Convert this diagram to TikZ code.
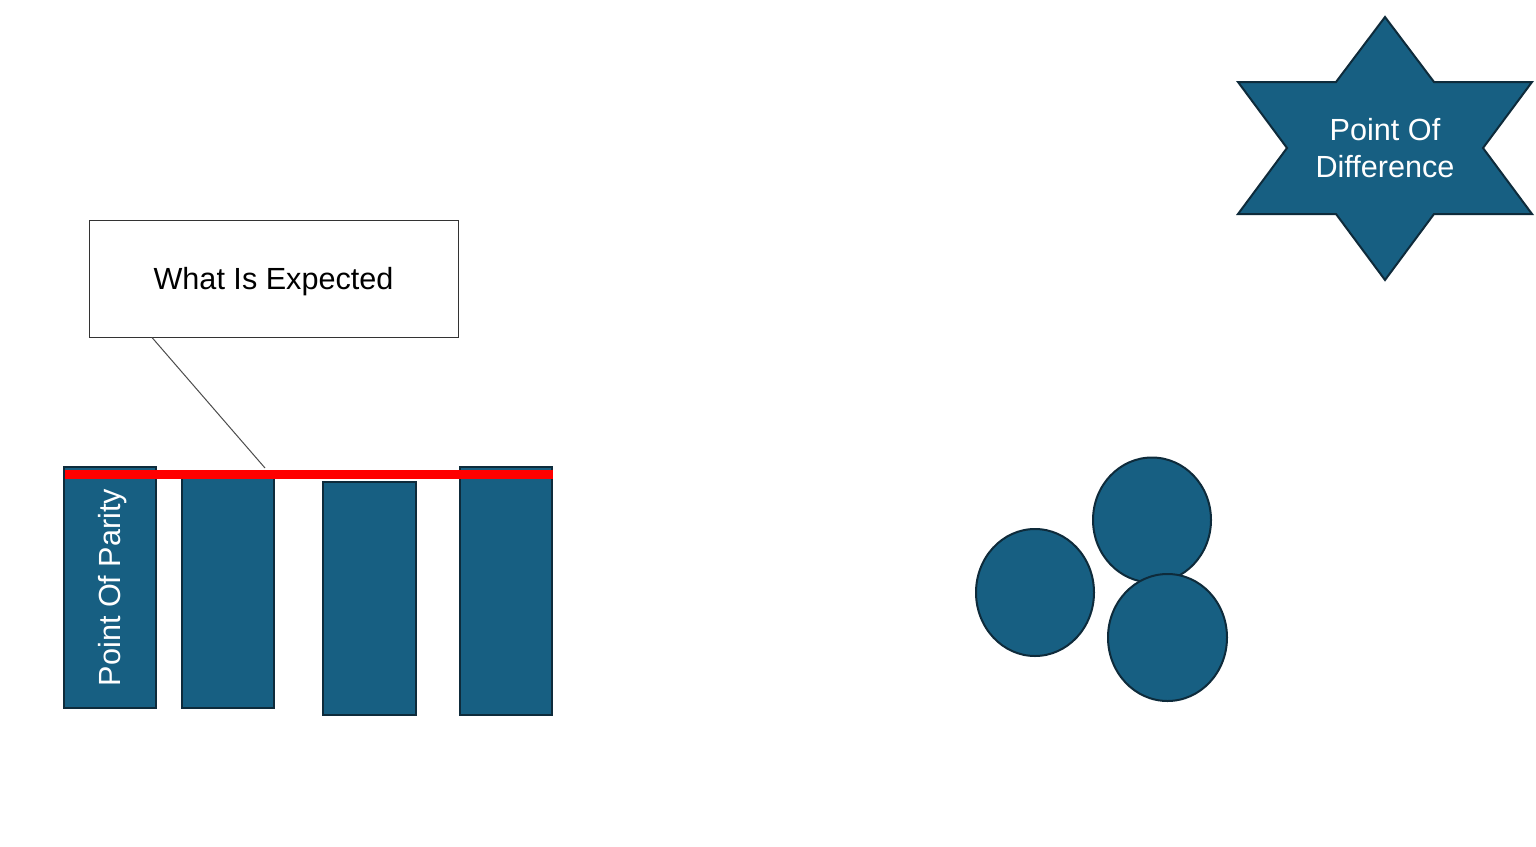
\documentclass[tikz,border=0pt]{standalone}
\usepackage{fontspec}
\setmainfont{Liberation Sans}
\begin{document}
\begin{tikzpicture}[x=0.5pt,y=-0.5pt,
  blockfill/.style={fill=pblue,draw=pedge,line width=1pt},
  barbox/.style={blockfill,rectangle,inner sep=0pt},
  lbl/.style={font=\fontsize{15.3}{18.5}\selectfont},
  ]
\definecolor{pblue}{HTML}{175F82}
\definecolor{pedge}{HTML}{0E2B3B}
\useasboundingbox[fill=white] (0,0) rectangle (1536,846);
% bars
\node[barbox,minimum width=46pt,minimum height=120.5pt] (b1) at (110,587.5) {};
\node[barbox,minimum width=46pt,minimum height=118pt] (b2) at (228,590) {};
\node[barbox,minimum width=46.5pt,minimum height=116.5pt] (b3) at (369.5,598.5) {};
\node[barbox,minimum width=46pt,minimum height=124pt] (b4) at (506,591) {};
\node[lbl,text=white,rotate=90,inner sep=0pt] (ppar) at ([xshift=1.5pt]b1.center) {Point Of Parity};
% red line
\draw[red,line width=4.5pt] (64.5,474.5) -- (553,474.5);
% callout
\node[draw=black!80,line width=0.5pt,fill=white,minimum width=184.5pt,minimum height=58.5pt,inner sep=0pt,lbl,text height=14pt,text depth=3.5pt] (exp) at (273.5,278.5) {What Is Expected};
\coordinate (tip) at (265,468);
\draw[black!70,line width=0.5pt] ([xshift=-60.75pt]exp.south) -- (tip);
% star
\filldraw[blockfill,line join=miter]
  (1385,17) -- (1434,82) -- (1532,82) -- (1483,148) -- (1532,214) -- (1434,214)
  -- (1385,280) -- (1336,214) -- (1238,214) -- (1287,148) -- (1238,82) -- (1336,82) -- cycle;
\node[lbl,text=white,align=center,inner sep=0pt] (pod) at (1385,148) {Point Of\\Difference};
% circles
\draw[blockfill] (1035,592.5) ellipse [x radius=29.5pt, y radius=31.75pt];
\draw[blockfill] (1152,520) ellipse [x radius=29.5pt, y radius=31.25pt];
\draw[blockfill] (1167.5,637.5) ellipse [x radius=29.75pt, y radius=31.75pt];
\end{tikzpicture}
\end{document}
